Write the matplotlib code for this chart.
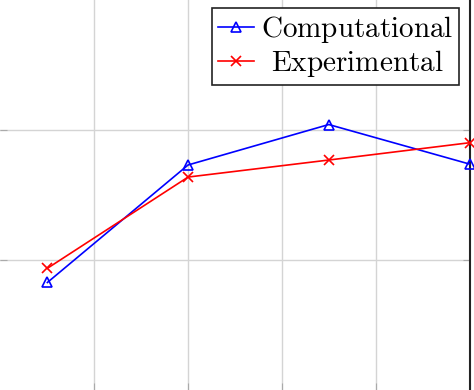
import matplotlib
matplotlib.use("Agg")
import matplotlib.pyplot as plt

plt.rcParams["mathtext.fontset"] = "cm"

x_vals = [10, 40, 70, 100]
computational = [0.827, 1.731, 2.042, 1.738]
experimental = [0.936, 1.638, 1.769, 1.902]
x_ticks = [20, 40, 60, 80, 100]
y_ticks = [1, 2]

DPI = 100
fig = plt.figure(figsize=(4.74, 3.9), dpi=DPI)
ax = fig.add_axes([0.001, 0.0, 469.5 / 474 - 0.001, 1.0])

ax.plot(x_vals, computational, color="blue", lw=1.2, marker="^",
        markersize=7, markerfacecolor="none", markeredgewidth=1.2,
        label=r"$\mathrm{Computational}$", clip_on=False, zorder=3)
ax.plot(x_vals, experimental, color="red", lw=1.2, marker="x",
        markersize=7, markeredgewidth=1.2,
        label=r"$\mathrm{Experimental}$", clip_on=False, zorder=3)

ax.set_xlim(0, 100)
ax.set_ylim(0, 3)
ax.set_xticks(x_ticks)
ax.set_yticks(y_ticks)
ax.set_xticklabels([])
ax.set_yticklabels([])
ax.tick_params(direction="in", length=5, color="#aaaaaa", left=True,
               right=True, bottom=True, top=False)
ax.grid(True, color="#d4d4d4", lw=1.0)
ax.set_axisbelow(True)

for side in ["left", "top", "bottom"]:
    ax.spines[side].set_visible(False)
ax.spines["right"].set_color("#222222")
ax.spines["right"].set_linewidth(1.5)

leg = ax.legend(loc="upper right", fontsize=21, fancybox=False,
                framealpha=1, edgecolor="#222222", handlelength=1.25,
                handletextpad=0.22, borderpad=0.2, labelspacing=0.1,
                borderaxespad=0, bbox_to_anchor=(459 / 469.5, 1 - 8 / 390))
leg.get_frame().set_linewidth(1.2)

# centre the labels like pgfplots does
fig.canvas.draw()
renderer = fig.canvas.get_renderer()
texts = leg.get_texts()
widths = [t.get_window_extent(renderer).width for t in texts]
rows = leg._legend_handle_box.get_children()[0].get_children()
for row, w in zip(rows, widths):
    row.sep += (max(widths) - w) / 2 * 72 / DPI

plt.savefig("out.png", dpi=DPI)
